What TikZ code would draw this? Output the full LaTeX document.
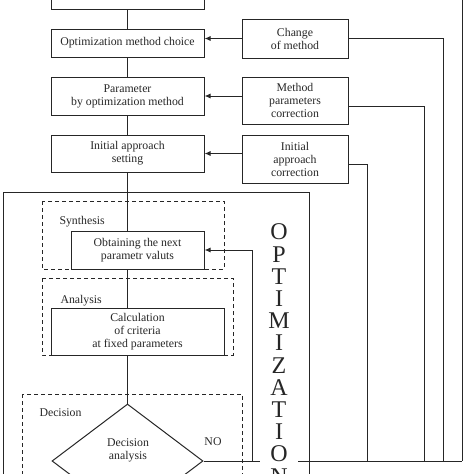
\documentclass[tikz,border=0pt]{standalone}
\usepackage{fontspec}
\setmainfont{Liberation Serif}
\usetikzlibrary{shapes.geometric, arrows.meta, positioning}
\newcommand{\boxfont}{\fontsize{11.8}{13}\selectfont}
\tikzset{
  block/.style={draw, rectangle, align=center, inner sep=0pt, font=\boxfont},
  stage/.style={draw, dash pattern=on 4pt off 3pt},
  tag/.style={anchor=base west, inner sep=0pt, font=\boxfont},
  letter/.style={fill=white, inner sep=1pt, minimum width=38, font=\fontsize{24}{24}\selectfont},
  link/.style={-{Latex[length=6pt,width=5pt]}},
}

\begin{document}
\begin{tikzpicture}[x=1pt, y=-1pt, line width=1pt, color=black!85]
\clip (0,0) rectangle (474,474);

% Optimization frame and stages
\draw (3,192) rectangle (309,490);
\draw[stage] (42,201) rectangle (224,269);
\draw[stage] (42,278) rectangle (233,355);
\draw[stage] (22,394) rectangle (242,490);
\node[tag] (synth) at (59,224) {Synthesis};
\node[tag] (anal) at (60,303) {Analysis};
\node[tag] (decis) at (39,416) {Decision};

% Setup blocks
\node[block, minimum width=153, minimum height=30] (task) at (127.5,-5.5) {};
\node[block, minimum width=153, minimum height=28] (optchoice) at (127.5,43) {Optimization method choice};
\node[block, minimum width=153, minimum height=38] (param) at (127.5,96) {Parameter\\by optimization method};
\node[block, minimum width=153, minimum height=37] (initset) at (127.5,153.5) {Initial approach\\setting};

% Correction blocks
\node[block, minimum width=106, minimum height=39] (changem) at (295,38.5) {Change\\of method};
\node[block, minimum width=106, minimum height=47] (methpar) at (295,100.5) {Method\\parameters\\correction};
\node[block, minimum width=106, minimum height=48] (initcorr) at (295,159) {Initial\\approach\\correction};

% Optimization loop
\node[block, minimum width=133, minimum height=38] (obtain) at (137.5,250) {Obtaining the next\\parametr valuts};
\node[block, minimum width=173, minimum height=47] (calc) at (137.5,331.5) {Calculation\\of criteria\\at fixed parameters};
\node[draw, diamond, minimum width=151, minimum height=114, inner sep=0pt] (decide) at (127.5,461) {};
\node[font=\boxfont, align=center, inner sep=0pt] (decidetxt) at (128,450) {Decision\\analysis};
\node[font=\boxfont, inner sep=0pt] (no) at (213,442) {NO};

% Main flow
\draw (task.south) -- (optchoice.north);
\draw (optchoice.south) -- (param.north);
\draw (param.south) -- (initset.north);
\draw (initset.south) -- (initset.south |- obtain.north);
\draw (initset.south |- obtain.south) -- (initset.south |- calc.north);
\draw (initset.south |- calc.south) -- (decide.north);

% Corrections
\draw[link] (changem.west) -- (changem.west -| optchoice.east);
\draw[link] (param.east -| methpar.west) -- (param.east);
\draw[link] (initset.east -| initcorr.west) -- (initset.east);

% Feedback lines
\coordinate (noturn) at (252,461);
\coordinate (joinA) at (367,461);
\coordinate (joinB) at (424,461);
\coordinate (joinC) at (443,461);
\coordinate (joinD) at (462,461);
\coordinate (topD) at (462,-20);
\draw (changem.east) -| (joinC);
\draw ([yshift=-5.5pt]methpar.east) -| (joinB);
\draw ([yshift=-5pt]initcorr.east) -| (joinA);
\draw (topD) -- (joinD);
\draw (decide.east) -- (joinD);
\draw[link] (noturn) |- (obtain.east);

% Vertical title
\foreach \ch [count=\i from 0] in {O,P,T,I,M,I,Z,A,T,I,O,N} {
    \node[letter] (opt\i) at (279, {232+22.2*\i}) {\ch};
}
\end{tikzpicture}
\end{document}
